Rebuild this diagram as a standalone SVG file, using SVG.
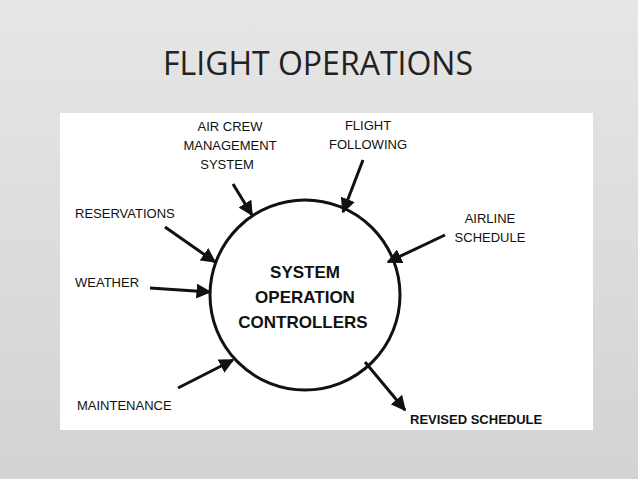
<svg xmlns="http://www.w3.org/2000/svg" width="638" height="479" viewBox="0 0 638 479">
<defs>
<linearGradient id="bg" x1="0" y1="0" x2="0" y2="1"><stop offset="0" stop-color="#e6e6e6"/><stop offset="1" stop-color="#d2d3d4"/></linearGradient>
<marker id="ah" viewBox="0 0 10 10" refX="9" refY="5" markerWidth="5" markerHeight="5" orient="auto" markerUnits="strokeWidth"><path d="M0,0 L10,5 L0,10 z" fill="#111"/></marker>
</defs>
<style>
.l{font-family:"Liberation Sans",Arial,sans-serif;font-size:13px;fill:#111}
.c{font-family:"Liberation Sans",Arial,sans-serif;font-size:17px;font-weight:bold;fill:#111;text-anchor:middle}
.a{stroke:#111;stroke-width:3;fill:none;marker-end:url(#ah)}
</style>
<rect width="638" height="479" fill="url(#bg)"/>
<text x="318" y="75" text-anchor="middle" font-family="'Open Sans',sans-serif" font-size="32" fill="#222">FLIGHT OPERATIONS</text>
<rect x="60" y="113" width="533" height="317" fill="#fff"/>
<g id="center"><circle cx="305" cy="295" r="95" fill="#fff" stroke="#111" stroke-width="3"/>
<text class="c" x="305" y="278">SYSTEM</text><text class="c" x="305" y="303">OPERATION</text><text class="c" x="303" y="328">CONTROLLERS</text></g>
<g id="aircrew"><text class="l" x="230" y="131" text-anchor="middle">AIR CREW</text><text class="l" x="230" y="150" text-anchor="middle">MANAGEMENT</text><text class="l" x="227" y="169" text-anchor="middle">SYSTEM</text></g>
<g id="flight"><text class="l" x="368" y="130" text-anchor="middle">FLIGHT</text><text class="l" x="368" y="149" text-anchor="middle">FOLLOWING</text></g>
<g id="reservations"><text class="l" x="75" y="218">RESERVATIONS</text></g>
<g id="airline"><text class="l" x="490" y="223" text-anchor="middle">AIRLINE</text><text class="l" x="490" y="242" text-anchor="middle">SCHEDULE</text></g>
<g id="weather"><text class="l" x="75" y="287">WEATHER</text></g>
<g id="maintenance"><text class="l" x="77" y="410">MAINTENANCE</text></g>
<g id="revised"><text class="l" x="410" y="424" font-weight="bold">REVISED SCHEDULE</text></g>
<g id="connectors">
<line class="a" x1="233" y1="184" x2="252" y2="215"/>
<line class="a" x1="363" y1="160" x2="343" y2="212"/>
<line class="a" x1="165" y1="227" x2="215" y2="262"/>
<line class="a" x1="445" y1="235" x2="388" y2="262"/>
<line class="a" x1="150" y1="288" x2="210" y2="292"/>
<line class="a" x1="178" y1="388" x2="233" y2="360"/>
<line class="a" x1="365" y1="362" x2="405" y2="410" stroke-width="5"/>
</g>
</svg>
